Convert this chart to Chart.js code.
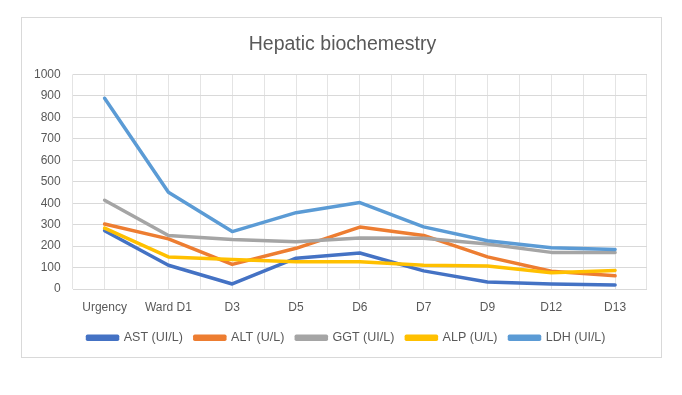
<!DOCTYPE html>
<html>
<head>
<meta charset="utf-8">
<script src="https://cdn.jsdelivr.net/npm/chart.js@4/dist/chart.umd.min.js"></script>
<style>
  body { margin: 0; background: #fff; }
  #box {
    position: absolute; left: 21px; top: 17px;
    width: 641px; height: 341px; box-sizing: border-box;
    border: 1px solid #d9d9d9; background: #fff;
  }
  #chart { display: block; }
</style>
</head>
<body>
<div id="box"><canvas id="chart" width="639" height="339"></canvas></div>
<script>
// days of follow-up
var categories = ['Urgency', 'Ward D1', 'D3', 'D5', 'D6', 'D7', 'D9', 'D12', 'D13'];

// values
var ast = [272, 111, 24, 144, 168, 85, 33, 24, 19];
var alt = [303, 234, 115, 190, 289, 250, 150, 83, 62];
var ggt = [414, 250, 231, 221, 238, 237, 210, 171, 170];
var alp = [284, 150, 138, 127, 127, 111, 108, 76, 87];
var ldh = [889, 451, 268, 356, 403, 290, 225, 193, 185];

var seriesNames = ['AST (UI/L)', 'ALT (U/L)', 'GGT (UI/L)', 'ALP (U/L)', 'LDH (UI/L)'];
var seriesColors = ['#4472c4', '#ed7d31', '#a5a5a5', '#ffc000', '#5b9bd5'];
var yTicks = [0, 100, 200, 300, 400, 500, 600, 700, 800, 900, 1000];

var textColor = '#595959';
var fontFamily = '"Liberation Sans", Arial, sans-serif';

var seriesData = [ast, alt, ggt, alp, ldh];
var datasets = seriesData.map(function (values, i) {
    return {
        label: seriesNames[i],
        data: values,
        borderColor: seriesColors[i],
        backgroundColor: seriesColors[i],
        borderWidth: 3.5,
        pointRadius: 0,
        tension: 0,
        borderJoinStyle: 'round',
        borderCapStyle: 'round',
        xAxisID: 'x',
        // excel draws the last series on top
        order: seriesData.length - 1 - i
    };
});

// title and legend are centred on the whole frame, not on the plot
var centreOnFrame = {
    id: 'centreOnFrame',
    afterLayout: function (chart) {
        var t = chart.titleBlock, l = chart.legend;
        if (t) { t.left += 8; t.right += 8; }
        if (l) { l.left += 12; l.right += 12; }
    }
};

var ctx = document.getElementById('chart');
var chart = new Chart(ctx, {
    type: 'line',
    data: {
        labels: categories,
        datasets: datasets
    },
    plugins: [centreOnFrame],
    options: {
        responsive: false,
        animation: false,
        layout: {
            padding: { left: 0, right: 14, top: 0, bottom: 3 }
        },
        plugins: {
            title: {
                display: true,
                text: 'Hepatic biochemestry',
                color: textColor,
                font: { family: fontFamily, size: 19.5, weight: 'normal' },
                padding: { top: 14.5, bottom: 18.5 }
            },
            legend: {
                position: 'bottom',
                labels: {
                    color: textColor,
                    font: { family: fontFamily, size: 12.5 },
                    boxWidth: 30,
                    boxHeight: 3,
                    padding: 12,
                    sort: function (a, b) { return a.datasetIndex - b.datasetIndex; }
                }
            },
            tooltip: { enabled: false }
        },
        scales: {
            x: {
                type: 'category',
                offset: true,
                grid: { offset: true, color: '#e4e4e4', drawTicks: false },
                border: { display: false },
                ticks: {
                    color: textColor,
                    font: { family: fontFamily, size: 12 },
                    padding: 11,
                    maxRotation: 0,
                    autoSkip: false
                },
                // pull the legend a bit closer to the day labels
                afterFit: function (scale) { scale.height -= 6; }
            },
            // second category axis only to draw the gridlines through the points
            x2: {
                type: 'category',
                labels: categories,
                position: 'top',
                offset: true,
                grid: { offset: false, color: '#e4e4e4', drawTicks: false },
                border: { display: false },
                ticks: { display: false }
            },
            y: {
                min: 0,
                max: 1000,
                afterBuildTicks: function (scale) {
                    scale.ticks = yTicks.map(function (v) { return { value: v }; });
                },
                grid: { color: '#d9d9d9', drawTicks: false },
                border: { display: false },
                ticks: {
                    color: textColor,
                    font: { family: fontFamily, size: 12 },
                    padding: 12,
                    callback: function (value) { return String(value); }
                }
            }
        }
    }
});
</script>
</body>
</html>
